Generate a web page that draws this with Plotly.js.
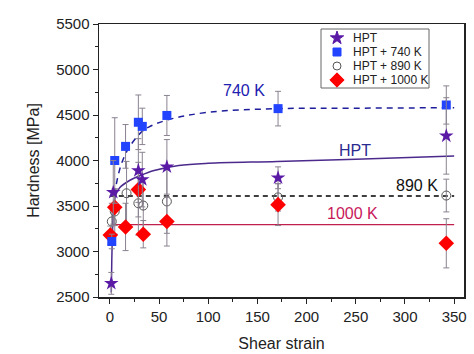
<!DOCTYPE html>
<html><head><meta charset="utf-8">
<script src="https://cdn.plot.ly/plotly-3.0.1.min.js"></script>
<style>body{margin:0;background:#fff}#c{width:474px;height:354px}</style>
</head><body><div id="c"></div>
<script>
// HPT (stars)
const hptX = [1.5, 3.5, 29, 33, 58, 171, 342];
const hptY = [2650, 3650, 3890, 3790, 3930, 3810, 4270];
const hptE = [120, 350, 350, 300, 300, 120, 420];
// HPT + 740 K (squares)
const k740X = [2, 5, 16, 29, 33, 58, 171, 342];
const k740Y = [3110, 4000, 4155, 4420, 4375, 4495, 4570, 4610];
const k740E = [80, 470, 240, 300, 200, 220, 190, 210];
// HPT + 890 K (open circles)
const k890X = [2, 5, 17, 29, 34, 58, 171, 342];
const k890Y = [3330, 3440, 3640, 3530, 3505, 3550, 3595, 3615];
const k890E = [200, 250, 350, 350, 300, 350, 150, 180];
// HPT + 1000 K (diamonds)
const k1000X = [0.5, 5, 16, 29, 34, 58, 171, 342];
const k1000Y = [3180, 3485, 3270, 3680, 3190, 3330, 3515, 3090];
const k1000E = [100, 200, 260, 300, 150, 270, 230, 270];
// fit curves
const fitHptX = [1.5, 2, 3, 4, 6, 10, 20, 30, 45, 70, 100, 170, 250, 350];
const fitHptY = [2550, 2900, 3300, 3500, 3620, 3700, 3780, 3830, 3890, 3945, 3970, 3990, 4015, 4050];
const fit740X = [4, 6, 10, 15, 20, 30, 40, 60, 100, 171, 250, 350];
const fit740Y = [3500, 3700, 3900, 4050, 4150, 4290, 4370, 4450, 4530, 4570, 4575, 4580];
const fit890X = [0, 350];
const fit890Y = [3610, 3610];
const fit1000X = [2, 350];
const fit1000Y = [3295, 3295];
const legendNames = ['HPT', 'HPT + 740 K', 'HPT + 890 K', 'HPT + 1000 K'];
const labelText = ['740 K', 'HPT', '890 K', '1000 K'];

const errStyle = (e) => ({type: 'data', array: e, visible: true, color: '#8a8290', thickness: 1, width: 3});
const cPurple = '#5a1aa6', cBlue = '#2244ff', cRed = '#ff0000';
const symbols = ['star', 'square', 'circle-open', 'diamond'];
const symColors = [cPurple, cBlue, '#555', cRed];
const symSizes = [10, 8, 8, 11];

// legend box geometry (pixel coords of the figure)
const legBox = {x0: 321, x1: 429, y0: 29, y1: 88};
const legRowY = [38, 52, 66, 80];
const legSymX = 337, legTextX = 351;

const traces = [
  {x: fit890X, y: fit890Y, mode: 'lines', line: {color: '#000', width: 1.3, dash: '5px,4px'}, hoverinfo: 'skip'},
  {x: fit1000X, y: fit1000Y, mode: 'lines', line: {color: '#c0204e', width: 1.3}, hoverinfo: 'skip'},
  {x: fit740X, y: fit740Y, mode: 'lines', line: {color: '#1e1e9c', width: 1.5, dash: '6px,5px', shape: 'spline'}, hoverinfo: 'skip'},
  {x: fitHptX, y: fitHptY, mode: 'lines', line: {color: '#4b2a8c', width: 1.5, shape: 'spline'}, hoverinfo: 'skip'},
  {x: k890X, y: k890Y, error_y: errStyle(k890E), mode: 'markers', marker: {symbol: 'circle-open', size: 9, color: '#555', line: {width: 1, color: '#555'}}},
  {x: k1000X, y: k1000Y, error_y: errStyle(k1000E), mode: 'markers', marker: {symbol: 'diamond', size: 12, color: cRed}},
  {x: k740X, y: k740Y, error_y: errStyle(k740E), mode: 'markers', marker: {symbol: 'square', size: 9, color: cBlue}},
  {x: hptX, y: hptY, error_y: errStyle(hptE), mode: 'markers', marker: {symbol: 'star', size: 11, color: cPurple}},
  // custom legend symbols on a pixel-coordinate overlay axis
  {x: legRowY.map(() => legSymX), y: legRowY, xaxis: 'x2', yaxis: 'y2', mode: 'markers',
   marker: {symbol: symbols, size: symSizes, color: symColors, opacity: 1, line: {width: 1, color: symColors}}, hoverinfo: 'skip', cliponaxis: false}
];

const fontFam = 'Liberation Sans, Arial, sans-serif';
const annotations = [
  {x: 136, y: 4767, text: labelText[0], showarrow: false, font: {size: 16, color: '#2020b0', family: fontFam}},
  {x: 249, y: 4110, text: labelText[1], showarrow: false, font: {size: 16, color: '#2a2a90', family: fontFam}},
  {x: 312, y: 3726, text: labelText[2], showarrow: false, font: {size: 16, color: '#111', family: fontFam}},
  {x: 247, y: 3420, text: labelText[3], showarrow: false, font: {size: 16, color: '#c8185a', family: fontFam}}
];
legendNames.forEach((n, i) => annotations.push({
  xref: 'x2', yref: 'y2', x: legTextX, y: legRowY[i], xanchor: 'left', yanchor: 'middle',
  text: n, showarrow: false, font: {size: 12, color: '#222', family: fontFam}
}));

const layout = {
  width: 474, height: 354,
  margin: {l: 99, r: 10, t: 24, b: 57},
  paper_bgcolor: '#fff', plot_bgcolor: '#fff',
  font: {family: fontFam, color: '#222'},
  showlegend: false,
  xaxis: {range: [-11, 360], tick0: 0, dtick: 50, ticks: 'outside', ticklen: 5, tickwidth: 1, tickcolor: '#222',
          minor: {dtick: 25, ticks: 'outside', ticklen: 3, tickcolor: '#222'},
          showline: true, linecolor: '#222', linewidth: 1.5, mirror: true, showgrid: false, zeroline: false,
          tickfont: {size: 15, family: fontFam, color: '#222'},
          title: {text: 'Shear strain', font: {size: 16, family: fontFam, color: '#222'}, standoff: 14}},
  yaxis: {range: [2500, 5500], tick0: 2500, dtick: 500, ticks: 'outside', ticklen: 5, tickwidth: 1, tickcolor: '#222',
          minor: {dtick: 250, ticks: 'outside', ticklen: 3, tickcolor: '#222'},
          showline: true, linecolor: '#222', linewidth: 1.5, mirror: true, showgrid: false, zeroline: false,
          tickfont: {size: 15, family: fontFam, color: '#222'},
          title: {text: 'Hardness [MPa]', font: {size: 16, family: fontFam, color: '#222'}, standoff: 12}},
  xaxis2: {overlaying: 'x', range: [99, 464], visible: false, showgrid: false, zeroline: false},
  yaxis2: {overlaying: 'y', range: [297, 24], visible: false, showgrid: false, zeroline: false},
  shapes: [
    {type: 'rect', xref: 'x2', yref: 'y2', x0: legBox.x0, x1: legBox.x1, y0: legBox.y0, y1: legBox.y1,
     line: {color: '#666', width: 1}, fillcolor: 'rgba(0,0,0,0)', layer: 'below'}
  ],
  annotations: annotations
};
Plotly.newPlot('c', traces, layout, {staticPlot: true});
</script></body></html>
